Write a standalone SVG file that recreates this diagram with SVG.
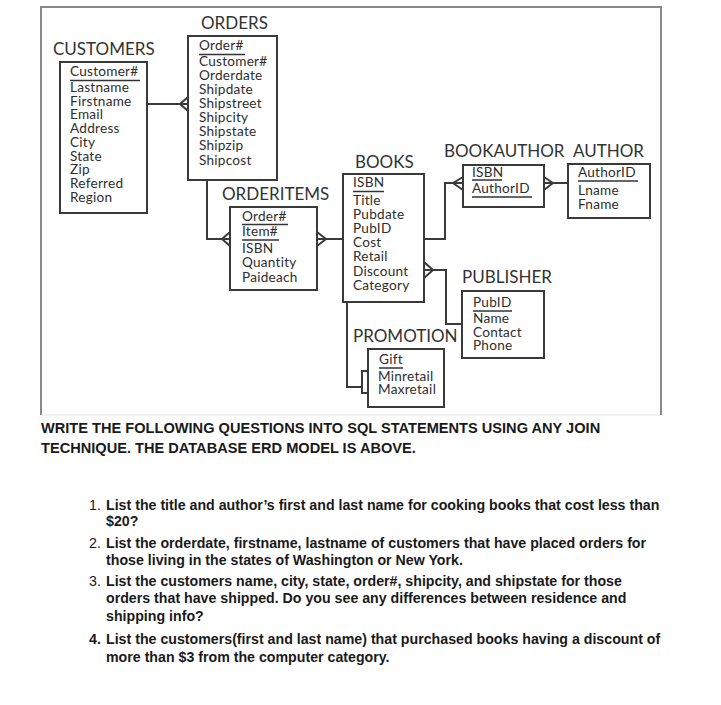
<svg xmlns="http://www.w3.org/2000/svg" width="721" height="705" viewBox="0 0 721 705">
<style>
.bg{fill:#fff}
.box{fill:#fff;stroke:#3a3a3a;stroke-width:2}
.ttl{font-family:Lato,"Open Sans",sans-serif;font-size:17px;fill:#333}
.fld{font-family:Lato,"Open Sans",sans-serif;font-size:13.6px;letter-spacing:0.25px;fill:#2e2e2e}
.ul{stroke:#333;stroke-width:1.5;fill:none}
.cn{stroke:#3a3a3a;stroke-width:2;fill:none}
.q{font-family:"Liberation Sans",Arial,sans-serif;font-size:14.2px;font-weight:bold;fill:#1a1a1a}
.h{font-size:14.6px}
.qn{font-weight:normal}
</style>
<rect class="bg" x="0" y="0" width="721" height="705"/>
<g id="frame">
<path d="M41,415 V7 H661 V415" fill="none" stroke="#8a8a8a" stroke-width="2"/>
<path d="M42,415 H660" fill="none" stroke="#e6e6e6" stroke-width="1"/>
</g>
<g id="connectors">
<path class="cn" d="M147,104 H188 M180,104 L188,97 M180,104 L188,111"/>
<path class="cn" d="M207,180 V239 H230 M222,239 L230,232 M222,239 L230,246"/>
<path class="cn" d="M317,239 H343 M326,239 L317,232 M326,239 L317,246"/>
<path class="cn" d="M424,239 H445 V183 H463 M453,183 L463,177 M453,183 L463,190"/>
<path class="cn" d="M544,183 H568 M553,183 L544,177 M553,183 L544,190"/>
<path class="cn" d="M424,270 H446 V324 H462 M433,270 L424,262 M433,270 L424,278"/>
<path class="cn" d="M347,302 V387 H362 M368,371 H362 V393 H368"/>
</g>
<g id="customers">
<text class="ttl" x="53" y="55">CUSTOMERS</text>
<rect class="box" x="60" y="62" width="87" height="151"/>
<text class="fld" x="70" y="76">Customer#</text>
<line class="ul" x1="70" y1="80.5" x2="140" y2="80.5"/>
<text class="fld" x="70" y="91.5">Lastname</text>
<text class="fld" x="70" y="105.5">Firstname</text>
<text class="fld" x="70" y="119">Email</text>
<text class="fld" x="70" y="133">Address</text>
<text class="fld" x="70" y="146.5">City</text>
<text class="fld" x="70" y="160.5">State</text>
<text class="fld" x="70" y="174">Zip</text>
<text class="fld" x="70" y="188">Referred</text>
<text class="fld" x="70" y="202">Region</text>
</g>
<g id="orders">
<text class="ttl" x="201" y="29">ORDERS</text>
<rect class="box" x="188" y="36" width="89" height="144"/>
<text class="fld" x="199" y="50">Order#</text>
<line class="ul" x1="199" y1="54.5" x2="245" y2="54.5"/>
<text class="fld" x="199" y="66">Customer#</text>
<text class="fld" x="199" y="80">Orderdate</text>
<text class="fld" x="199" y="94">Shipdate</text>
<text class="fld" x="199" y="108">Shipstreet</text>
<text class="fld" x="199" y="122">Shipcity</text>
<text class="fld" x="199" y="136">Shipstate</text>
<text class="fld" x="199" y="150">Shipzip</text>
<text class="fld" x="199" y="165">Shipcost</text>
</g>
<g id="orderitems">
<text class="ttl" x="222" y="200">ORDERITEMS</text>
<rect class="box" x="230" y="207" width="87" height="83"/>
<text class="fld" x="242" y="221">Order#</text>
<line class="ul" x1="242" y1="224.5" x2="288" y2="224.5"/>
<text class="fld" x="242" y="235.5">Item#</text>
<line class="ul" x1="242" y1="240" x2="279" y2="240"/>
<text class="fld" x="242" y="253">ISBN</text>
<text class="fld" x="242" y="267">Quantity</text>
<text class="fld" x="242" y="282">Paideach</text>
</g>
<g id="books">
<text class="ttl" x="355" y="168">BOOKS</text>
<rect class="box" x="343" y="174" width="81" height="128"/>
<text class="fld" x="353" y="187">ISBN</text>
<line class="ul" x1="353" y1="191.5" x2="384" y2="191.5"/>
<text class="fld" x="353" y="205">Title</text>
<text class="fld" x="353" y="219">Pubdate</text>
<text class="fld" x="353" y="233">PubID</text>
<text class="fld" x="353" y="247">Cost</text>
<text class="fld" x="353" y="261">Retail</text>
<text class="fld" x="353" y="276">Discount</text>
<text class="fld" x="353" y="290">Category</text>
</g>
<g id="bookauthor">
<text class="ttl" x="444" y="157">BOOKAUTHOR</text>
<rect class="box" x="463" y="165" width="81" height="42"/>
<text class="fld" x="472" y="176.5">ISBN</text>
<line class="ul" x1="472" y1="180" x2="502" y2="180"/>
<text class="fld" x="472" y="193">AuthorID</text>
<line class="ul" x1="472" y1="197" x2="532" y2="197"/>
</g>
<g id="author">
<text class="ttl" x="573" y="157">AUTHOR</text>
<rect class="box" x="568" y="164" width="82" height="54"/>
<text class="fld" x="578" y="177">AuthorID</text>
<line class="ul" x1="578" y1="181" x2="638" y2="181"/>
<text class="fld" x="578" y="195">Lname</text>
<text class="fld" x="578" y="209">Fname</text>
</g>
<g id="publisher">
<text class="ttl" x="462" y="283">PUBLISHER</text>
<rect class="box" x="462" y="291" width="82" height="67"/>
<text class="fld" x="473" y="306.5">PubID</text>
<line class="ul" x1="473" y1="311" x2="512" y2="311"/>
<text class="fld" x="473" y="323">Name</text>
<text class="fld" x="473" y="336.5">Contact</text>
<text class="fld" x="473" y="350">Phone</text>
</g>
<g id="promotion">
<text class="ttl" x="353" y="342">PROMOTION</text>
<rect class="box" x="368" y="349" width="76" height="58"/>
<text class="fld" x="379" y="364">Gift</text>
<line class="ul" x1="379" y1="368" x2="403" y2="368"/>
<text class="fld" x="378" y="381">Minretail</text>
<text class="fld" x="378" y="394">Maxretail</text>
</g>
<g id="questions">
<text class="q h" x="41" y="433">WRITE THE FOLLOWING QUESTIONS INTO SQL STATEMENTS USING ANY JOIN</text>
<text class="q h" x="41" y="453">TECHNIQUE. THE DATABASE ERD MODEL IS ABOVE.</text>
<text class="q qn" x="89" y="510">1.</text>
<text class="q" x="106" y="510">List the title and author’s first and last name for cooking books that cost less than</text>
<text class="q" x="106" y="526">$20?</text>
<text class="q qn" x="89" y="548">2.</text>
<text class="q" x="106" y="548">List the orderdate, firstname, lastname of customers that have placed orders for</text>
<text class="q" x="106" y="565">those living in the states of Washington or New York.</text>
<text class="q qn" x="89" y="586">3.</text>
<text class="q" x="106" y="586">List the customers name, city, state, order#, shipcity, and shipstate for those</text>
<text class="q" x="106" y="603">orders that have shipped.  Do you see any differences between residence and</text>
<text class="q" x="106" y="621">shipping info?</text>
<text class="q" x="89" y="644">4.</text>
<text class="q" x="106" y="644">List the customers(first and last name) that purchased books having a discount of</text>
<text class="q" x="106" y="662">more than $3 from the computer category.</text>
</g>
</svg>
